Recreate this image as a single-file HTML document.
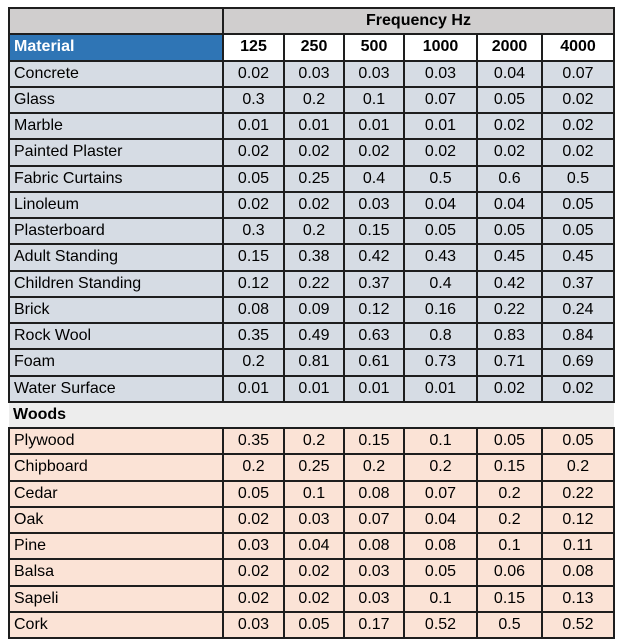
<!DOCTYPE html>
<html><head><meta charset="utf-8"><style>
html,body{margin:0;padding:0;background:#fff;width:622px;height:641px;overflow:hidden}
table{position:absolute;left:8px;top:7px;border-collapse:collapse;table-layout:fixed;font-family:"Liberation Sans",Arial,sans-serif;font-size:16px;color:#000}
tr{height:26.25px}
td{border:2px solid #1e1e1e;height:24.25px;padding:0 4px;text-align:center;white-space:nowrap;overflow:hidden;box-sizing:border-box}
td:first-child{text-align:left}
tr.h1 td{background:#d0cece;font-weight:bold}
tr.h2 td{background:#fff;font-weight:bold}
tr.h2 td.m{background:#2f75b5;color:#fff}
tr.b td{background:#d6dce4}
tr.p td{background:#fbe3d6}
tr.w td{background:#ededed;font-weight:bold;border-left:none;border-right:none}
</style></head><body>
<table>
<colgroup><col style="width:214px"><col style="width:61px"><col style="width:60px"><col style="width:60px"><col style="width:73px"><col style="width:65px"><col style="width:72px"></colgroup>
<tr class="h1"><td></td><td colspan="6" style="text-align:center">Frequency Hz</td></tr>
<tr class="h2"><td class="m">Material</td><td>125</td><td>250</td><td>500</td><td>1000</td><td>2000</td><td>4000</td></tr>
<tr class="b"><td>Concrete</td><td>0.02</td><td>0.03</td><td>0.03</td><td>0.03</td><td>0.04</td><td>0.07</td></tr>
<tr class="b"><td>Glass</td><td>0.3</td><td>0.2</td><td>0.1</td><td>0.07</td><td>0.05</td><td>0.02</td></tr>
<tr class="b"><td>Marble</td><td>0.01</td><td>0.01</td><td>0.01</td><td>0.01</td><td>0.02</td><td>0.02</td></tr>
<tr class="b"><td>Painted Plaster</td><td>0.02</td><td>0.02</td><td>0.02</td><td>0.02</td><td>0.02</td><td>0.02</td></tr>
<tr class="b"><td>Fabric Curtains</td><td>0.05</td><td>0.25</td><td>0.4</td><td>0.5</td><td>0.6</td><td>0.5</td></tr>
<tr class="b"><td>Linoleum</td><td>0.02</td><td>0.02</td><td>0.03</td><td>0.04</td><td>0.04</td><td>0.05</td></tr>
<tr class="b"><td>Plasterboard</td><td>0.3</td><td>0.2</td><td>0.15</td><td>0.05</td><td>0.05</td><td>0.05</td></tr>
<tr class="b"><td>Adult Standing</td><td>0.15</td><td>0.38</td><td>0.42</td><td>0.43</td><td>0.45</td><td>0.45</td></tr>
<tr class="b"><td>Children Standing</td><td>0.12</td><td>0.22</td><td>0.37</td><td>0.4</td><td>0.42</td><td>0.37</td></tr>
<tr class="b"><td>Brick</td><td>0.08</td><td>0.09</td><td>0.12</td><td>0.16</td><td>0.22</td><td>0.24</td></tr>
<tr class="b"><td>Rock Wool</td><td>0.35</td><td>0.49</td><td>0.63</td><td>0.8</td><td>0.83</td><td>0.84</td></tr>
<tr class="b"><td>Foam</td><td>0.2</td><td>0.81</td><td>0.61</td><td>0.73</td><td>0.71</td><td>0.69</td></tr>
<tr class="b"><td>Water Surface</td><td>0.01</td><td>0.01</td><td>0.01</td><td>0.01</td><td>0.02</td><td>0.02</td></tr>
<tr class="w"><td colspan="7" style="text-align:left">Woods</td></tr>
<tr class="p"><td>Plywood</td><td>0.35</td><td>0.2</td><td>0.15</td><td>0.1</td><td>0.05</td><td>0.05</td></tr>
<tr class="p"><td>Chipboard</td><td>0.2</td><td>0.25</td><td>0.2</td><td>0.2</td><td>0.15</td><td>0.2</td></tr>
<tr class="p"><td>Cedar</td><td>0.05</td><td>0.1</td><td>0.08</td><td>0.07</td><td>0.2</td><td>0.22</td></tr>
<tr class="p"><td>Oak</td><td>0.02</td><td>0.03</td><td>0.07</td><td>0.04</td><td>0.2</td><td>0.12</td></tr>
<tr class="p"><td>Pine</td><td>0.03</td><td>0.04</td><td>0.08</td><td>0.08</td><td>0.1</td><td>0.11</td></tr>
<tr class="p"><td>Balsa</td><td>0.02</td><td>0.02</td><td>0.03</td><td>0.05</td><td>0.06</td><td>0.08</td></tr>
<tr class="p"><td>Sapeli</td><td>0.02</td><td>0.02</td><td>0.03</td><td>0.1</td><td>0.15</td><td>0.13</td></tr>
<tr class="p"><td>Cork</td><td>0.03</td><td>0.05</td><td>0.17</td><td>0.52</td><td>0.5</td><td>0.52</td></tr>
</table>
</body></html>
